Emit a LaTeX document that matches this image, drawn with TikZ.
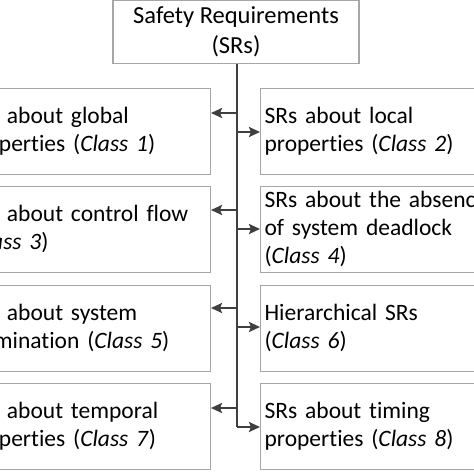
\documentclass[tikz,border=0pt]{standalone}
\usepackage{fontspec}
\setmainfont{Carlito}[Ligatures=NoCommon]
\usetikzlibrary{arrows.meta}
\definecolor{boxline}{HTML}{A6A6A6}
\definecolor{conn}{HTML}{3F3F3F}
\tikzset{
  srbox/.style={draw=boxline, line width=1.2pt, fill=white, rectangle,
    minimum height=85.5pt, inner xsep=4pt, inner ysep=0pt, align=left,
    font=\fontsize{23.5}{28}\selectfont},
  leftbox/.style={srbox, minimum width=248pt, text width=240pt},
  rightbox/.style={srbox, minimum width=241pt, text width=233pt},
  topbox/.style={draw=boxline, line width=1.2pt, fill=white, rectangle,
    minimum width=246pt, minimum height=63pt, inner sep=0pt, align=center,
    font=\fontsize{24.5}{30}\selectfont},
  trunk/.style={draw=conn, line width=2.2pt},
  branch/.style={draw=conn, line width=2.2pt, -{Stealth[length=11pt,width=10pt,inset=2pt]}}
}
\begin{document}
\begin{tikzpicture}[x=1pt,y=-1pt]
\useasboundingbox (0,0) rectangle (474,474);
\fill[white] (0,0) rectangle (474,474);
\clip (0,0) rectangle (474,474);

\node[topbox, anchor=north] (top) at (236,0) {Safety Requirements\\(SRs)};

\node[leftbox, anchor=north east] (l1) at (211,88) {SRs about global\\properties (\textit{Class 1})};
\node[rightbox, anchor=north west] (r1) at (260,88) {SRs about local\\properties (\textit{Class 2})};
\node[leftbox, anchor=north east] (l2) at (211,186) {SRs about control flow\\(\textit{Class 3})};
\node[rightbox, anchor=north west] (r2) at (260,186) {SRs about the absence\\of system deadlock\\(\textit{Class 4})};
\node[leftbox, anchor=north east] (l3) at (211,285) {SRs about system\\termination (\textit{Class 5})};
\node[rightbox, anchor=north west] (r3) at (260,285) {Hierarchical SRs\\(\textit{Class 6})};
\node[leftbox, anchor=north east] (l4) at (211,383) {SRs about temporal\\properties (\textit{Class 7})};
\node[rightbox, anchor=north west] (r4) at (260,383) {SRs about timing\\properties (\textit{Class 8})};

\coordinate (tl1) at (237,113);
\coordinate (tr1) at (237,132);
\coordinate (tl2) at (237,210);
\coordinate (tr2) at (237,229);
\coordinate (tl3) at (237,308);
\coordinate (tr3) at (237,327);
\coordinate (tl4) at (237,408);
\coordinate (tr4) at (237,427);

\draw[trunk] (top.south -| tr4) -- (tr4);
\draw[branch] (tl1) -- (tl1 -| l1.east);
\draw[branch] (tr1) -- (tr1 -| r1.west);
\draw[branch] (tl2) -- (tl2 -| l2.east);
\draw[branch] (tr2) -- (tr2 -| r2.west);
\draw[branch] (tl3) -- (tl3 -| l3.east);
\draw[branch] (tr3) -- (tr3 -| r3.west);
\draw[branch] (tl4) -- (tl4 -| l4.east);
\draw[branch] (tr4) -- (tr4 -| r4.west);
\end{tikzpicture}
\end{document}
